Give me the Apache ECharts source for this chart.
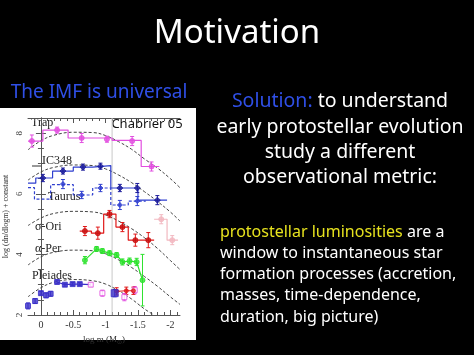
<!DOCTYPE html>
<html><head><meta charset="utf-8">
<script src="https://cdn.jsdelivr.net/npm/echarts@6/dist/echarts.min.js"></script>
<style>html,body{margin:0;padding:0;background:#000;} #c{width:474px;height:355px;}</style>
</head><body><div id="c"></div>
<script>
// ---- tick labels ----
const xTickValues = [0, -0.5, -1, -1.5, -2];
const xMinorValues = [0.1, -0.1, -0.2, -0.3, -0.4, -0.6, -0.7, -0.8, -0.9, -1.1, -1.2, -1.3, -1.4, -1.6, -1.7, -1.8, -1.9, -2.1];
const yTickValues = [2, 4, 6, 8];
const yMinorValues = [2.5, 3, 3.5, 4.5, 5, 5.5, 6.5, 7, 7.5, 8.5];
const groupLabels = ['Trap', 'IC348', 'Taurus', 'σ-Ori', 'α-Per', 'Pleiades'];

// ---- Chabrier lognormal curves ----
const trapCurveX = [0.2, 0.0, -0.2, -0.5, -0.8, -1.0, -1.2, -1.4, -1.6, -1.8, -2.0, -2.15];
const trapCurveY = [7.45, 7.75, 7.93, 8.03, 8.02, 7.92, 7.72, 7.47, 7.15, 6.85, 6.5, 6.2];
const ic348CurveX = [0.2, 0.0, -0.2, -0.5, -0.8, -1.0, -1.2, -1.4, -1.6, -1.8, -2.0, -2.15];
const ic348CurveY = [6.45, 6.72, 6.87, 6.95, 6.93, 6.82, 6.62, 6.37, 6.07, 5.75, 5.4, 5.1];
const sigCurveX = [0.2, 0.0, -0.2, -0.5, -0.8, -1.0, -1.2, -1.4, -1.6, -1.8, -2.0, -2.15];
const sigCurveY = [4.95, 5.2, 5.35, 5.42, 5.4, 5.3, 5.1, 4.85, 4.55, 4.2, 3.8, 3.5];
const aperCurveX = [0.2, 0.0, -0.2, -0.5, -0.8, -1.0, -1.2, -1.4, -1.6, -1.8, -2.0, -2.15];
const aperCurveY = [3.65, 3.92, 4.07, 4.14, 4.12, 4.02, 3.82, 3.57, 3.27, 2.95, 2.6, 2.35];
const pleCurveX = [0.2, 0.0, -0.2, -0.5, -0.8, -1.0, -1.2, -1.4, -1.6, -1.75];
const pleCurveY = [2.6, 2.9, 3.08, 3.17, 3.13, 3.02, 2.8, 2.53, 2.2, 2.0];

// ---- histograms (bin edges + levels) ----
const trapEdges = [0.2, -0.03, -0.42, -1.1, -1.55, -1.83];
const trapLevels = [7.74, 8.1, 7.84, 7.76, 6.9];
const ic348Edges = [0.2, 0.08, -0.18, -0.5, -0.8, -1.08, -1.5, -1.95];
const ic348Levels = [6.35, 6.52, 6.75, 6.88, 6.93, 6.19, 5.79];
const taurusEdges = [0.2, 0.1, -0.15, -0.5, -0.8, -1.08, -1.35, -1.62];
const taurusLevels = [6.2, 5.82, 6.3, 5.96, 6.19, 5.63, 5.76];
const sigEdges = [-0.6, -0.78, -0.97, -1.16, -1.35, -1.75];
const sigLevels = [4.77, 4.7, 5.33, 4.9, 4.47];
const sigFadeEdges = [-1.75, -1.95, -2.12];
const sigFadeLevels = [5.16, 4.47];

// ---- data points ----
const trapX = [0.14, -0.25, -0.63, -1.02, -1.41, -1.71];
const trapY = [7.74, 8.1, 7.84, 7.8, 7.74, 6.9];
const trapErr = [0.2, 0.1, 0.15, 0.1, 0.15, 0.15];
const ic348X = [-0.03, -0.34, -0.65, -0.92, -1.22, -1.49, -1.8];
const ic348Y = [6.52, 6.75, 6.88, 6.91, 6.19, 6.19, 5.79];
const ic348Err = [0.12, 0.1, 0.1, 0.1, 0.12, 0.15, 0.15];
const taurusX = [-0.34, -0.63, -0.92, -1.22, -1.49];
const taurusY = [6.32, 5.96, 6.19, 5.63, 5.76];
const taurusErr = [0.15, 0.12, 0.12, 0.15, 0.15];
const sigX = [-0.68, -0.88, -1.06, -1.26, -1.46, -1.66];
const sigY = [4.77, 4.7, 5.33, 4.9, 4.47, 4.47];
const sigErr = [0.15, 0.2, 0.12, 0.15, 0.2, 0.25];
const sigFadeX = [-1.86, -2.03];
const sigFadeY = [5.16, 4.47];
const sigFadeErr = [0.15, 0.15];
const aperX = [-0.68, -0.86, -0.95, -1.06, -1.17, -1.26, -1.37, -1.48, -1.57];
const aperY = [3.81, 4.18, 4.11, 4.04, 3.98, 3.75, 3.78, 3.75, 3.15];
const aperErr = [0.12, 0.08, 0.08, 0.08, 0.08, 0.1, 0.1, 0.12, 0.85];
const pleX = [0.2, 0.09, 0.0, -0.08, -0.15, -0.25, -0.37, -0.49, -0.6];
const pleY = [2.3, 2.46, 2.72, 2.65, 2.7, 3.09, 3.0, 3.02, 3.02];
const pleErr = [0.1, 0.08, 0.06, 0.08, 0.08, 0.06, 0.05, 0.05, 0.05];
const pleMagX = [-0.77, -0.95, -1.29, -1.45];
const pleMagY = [3.0, 2.72, 2.59, 2.82];
const pleMagErr = [0.06, 0.1, 0.12, 0.12];
const pleBigX = [-1.14];
const pleBigY = [2.72];
const pleBigErr = [0.12];
const redLowX = [-1.17, -1.32, -1.43];
const redLowY = [2.78, 2.8, 2.8];
const redLowErr = [0.12, 0.12, 0.12];
const cutX = [-1.1];

// ---- helpers ----
const pts = (xs, ys) => xs.map((x, i) => [x, ys[i]]);
const stepPts = (edges, lv) => {
  const d = [];
  for (let i = 0; i < lv.length; i++) d.push([edges[i], lv[i]]);
  d.push([edges[edges.length - 1], lv[lv.length - 1]]);
  return d;
};
const curve = (xs, ys) => ({
  type: 'line', data: pts(xs, ys), smooth: 0.4, symbol: 'none', silent: true,
  lineStyle: { color: '#444', width: 1, type: [3, 2] }, z: 2
});
const hist = (edges, lv, color, dashed, w) => ({
  type: 'line', data: stepPts(edges, lv), step: 'end', symbol: 'none', silent: true,
  lineStyle: { color: color, width: w || 1.2, type: dashed ? [3, 2] : 'solid' }, z: 3
});
const scatter = (xs, ys, color, symbol, size, fill) => ({
  type: 'scatter', data: pts(xs, ys), symbol: symbol, symbolSize: size, silent: true,
  itemStyle: { color: fill === false ? '#fff' : color, borderColor: color, borderWidth: 1 }, z: 5
});
const errBars = (xs, ys, es, color) => ({
  type: 'custom', silent: true, z: 4,
  data: xs.map((x, i) => [x, ys[i], es[i]]),
  encode: { x: 0, y: 1 },
  renderItem: (params, api) => {
    const x = api.value(0), y = api.value(1), e = api.value(2);
    const t = api.coord([x, y + e]), b = api.coord([x, y - e]);
    const w = 2, st = { stroke: color, lineWidth: 1 };
    return { type: 'group', children: [
      { type: 'line', shape: { x1: t[0], y1: t[1], x2: b[0], y2: b[1] }, style: st },
      { type: 'line', shape: { x1: t[0] - w, y1: t[1], x2: t[0] + w, y2: t[1] }, style: st },
      { type: 'line', shape: { x1: b[0] - w, y1: b[1], x2: b[0] + w, y2: b[1] }, style: st }
    ] };
  }
});

const MAG = '#e24fe0', BLUE = '#2f3fcf', RED = '#e01818', GREEN = '#2ee22e', PBLUE = '#3a2fc8', FADE = '#f2b8c0';
const serif = 'Liberation Serif';
const axisCommon = { type: 'value', min: -2.15, max: 0.2, inverse: true, gridIndex: 0, splitLine: { show: false } };

const xAxes = [
  Object.assign({}, axisCommon, {
    position: 'bottom',
    axisLine: { show: true, lineStyle: { color: '#555', width: 1 } },
    axisTick: { show: true, inside: true, length: 5, customValues: xTickValues, lineStyle: { color: '#555' } },
    axisLabel: { show: true, customValues: xTickValues, color: '#333', fontFamily: serif, fontSize: 10, margin: 5,
      formatter: v => (v === 0 ? '0' : String(v)) },
    name: '{a|log m (M}{s|⊙}{a|)}', nameLocation: 'middle', nameGap: 17,
    nameTextStyle: { rich: { a: { fontFamily: serif, fontSize: 9, color: '#333' }, s: { fontFamily: 'DejaVu Sans', fontSize: 6, color: '#333', verticalAlign: 'bottom', padding: [6, 0, 0, 0] } } }
  }),
  Object.assign({}, axisCommon, {
    position: 'bottom', axisLine: { show: false },
    axisTick: { show: true, inside: true, length: 3, customValues: xMinorValues, lineStyle: { color: '#555' } },
    axisLabel: { show: false }
  }),
  Object.assign({}, axisCommon, {
    position: 'top',
    axisLine: { show: true, lineStyle: { color: '#555', width: 1 } },
    axisTick: { show: true, inside: true, length: 5, customValues: xTickValues, lineStyle: { color: '#555' } },
    axisLabel: { show: false }
  }),
  Object.assign({}, axisCommon, {
    position: 'top', axisLine: { show: false },
    axisTick: { show: true, inside: true, length: 3, customValues: xMinorValues, lineStyle: { color: '#555' } },
    axisLabel: { show: false }
  })
];
const yCommon = { type: 'value', min: 2, max: 8.5, gridIndex: 0, splitLine: { show: false } };
const yAxes = [
  Object.assign({}, yCommon, {
    position: 'left',
    axisLine: { show: true, lineStyle: { color: '#555', width: 1 } },
    axisTick: { show: true, inside: true, length: 5, customValues: yTickValues, lineStyle: { color: '#555' } },
    axisLabel: { show: true, customValues: yTickValues, rotate: 90, color: '#333', fontFamily: serif, fontSize: 9, margin: 4 },
    name: 'log (dn/dlogm) + constant', nameLocation: 'middle', nameGap: 18, nameRotate: 90,
    nameTextStyle: { fontFamily: serif, fontSize: 8, color: '#333' }
  }),
  Object.assign({}, yCommon, {
    position: 'left', axisLine: { show: false },
    axisTick: { show: true, inside: true, length: 3, customValues: yMinorValues, lineStyle: { color: '#555' } },
    axisLabel: { show: false }
  }),
  Object.assign({}, yCommon, {
    position: 'right',
    axisLine: { show: true, lineStyle: { color: '#555', width: 1 } },
    axisTick: { show: true, inside: true, length: 5, customValues: yTickValues, lineStyle: { color: '#555' } },
    axisLabel: { show: false }
  }),
  Object.assign({}, yCommon, {
    position: 'right', axisLine: { show: false },
    axisTick: { show: true, inside: true, length: 3, customValues: yMinorValues, lineStyle: { color: '#555' } },
    axisLabel: { show: false }
  })
];

const series = [
  { type: 'line', data: [[cutX[0], 2], [cutX[0], 8.5]], symbol: 'none', silent: true, lineStyle: { color: '#c8c8c8', width: 1 }, z: 1 },
  curve(trapCurveX, trapCurveY), curve(ic348CurveX, ic348CurveY), curve(sigCurveX, sigCurveY),
  curve(aperCurveX, aperCurveY), curve(pleCurveX, pleCurveY),
  hist(trapEdges, trapLevels, MAG), hist(ic348Edges, ic348Levels, BLUE), hist(taurusEdges, taurusLevels, BLUE, true),
  hist(sigEdges, sigLevels, RED), hist(sigFadeEdges, sigFadeLevels, FADE),
  { type: 'line', data: pts(aperX, aperY), symbol: 'none', silent: true, lineStyle: { color: GREEN, width: 1.2 }, z: 3 },
  { type: 'line', data: pts(pleX.slice(5), pleY.slice(5)).concat(pts(pleMagX.slice(0, 1), pleMagY.slice(0, 1))), symbol: 'none', silent: true, lineStyle: { color: PBLUE, width: 1.2 }, z: 3 },
  { type: 'line', data: pts(redLowX, redLowY), symbol: 'none', silent: true, lineStyle: { color: RED, width: 1 }, z: 3 },
  errBars(trapX, trapY, trapErr, MAG), scatter(trapX, trapY, MAG, 'circle', 5),
  errBars(ic348X, ic348Y, ic348Err, '#1a1a9a'), scatter(ic348X, ic348Y, '#1a1a9a', 'diamond', 6),
  errBars(taurusX, taurusY, taurusErr, BLUE), scatter(taurusX, taurusY, BLUE, 'diamond', 5),
  errBars(sigX, sigY, sigErr, RED), scatter(sigX, sigY, '#c80c0c', 'circle', 5),
  errBars(sigFadeX, sigFadeY, sigFadeErr, FADE), scatter(sigFadeX, sigFadeY, FADE, 'circle', 5),
  errBars(aperX, aperY, aperErr, GREEN), scatter(aperX, aperY, GREEN, 'circle', 5),
  errBars(pleX, pleY, pleErr, PBLUE), scatter(pleX, pleY, PBLUE, 'rect', 5),
  errBars(pleMagX, pleMagY, pleMagErr, MAG), scatter(pleMagX, pleMagY, MAG, 'rect', 5, false),
  errBars(redLowX, redLowY, redLowErr, RED), scatter(redLowX, redLowY, RED, 'circle', 4),
  errBars(pleBigX, pleBigY, pleBigErr, PBLUE), scatter(pleBigX, pleBigY, PBLUE, 'rect', 7)
];

const labelStyle = { fontFamily: serif, fontSize: 12, fill: '#222' };
const slideFont = '"Noto Sans"';
const big = '19.5px ' + slideFont, small = '16px ' + slideFont;
const graphic = [
  { type: 'rect', shape: { x: 0, y: 108, width: 196, height: 232 }, style: { fill: '#fff' }, z: -10 },
  { type: 'text', x: 237, y: 34, style: { text: 'Motivation', font: '33px ' + slideFont, fill: '#fff', align: 'center', verticalAlign: 'middle' } },
  { type: 'text', x: 99, y: 93, style: { text: 'The IMF is universal', font: '19px ' + slideFont, fill: '#2f4fe6', align: 'center', verticalAlign: 'middle' } },
  { type: 'text', x: 147, y: 124, style: { text: 'Chabrier 05', font: '13px ' + slideFont, fill: '#111', align: 'center', verticalAlign: 'middle' } },
  { type: 'text', x: 31, y: 123, style: Object.assign({ text: groupLabels[0], align: 'left', verticalAlign: 'middle' }, labelStyle) },
  { type: 'line', shape: { x1: 32, y1: 166, x2: 42, y2: 166 }, style: { stroke: '#333', lineWidth: 1 } },
  { type: 'text', x: 42, y: 161, style: Object.assign({ text: groupLabels[1], align: 'left', verticalAlign: 'middle' }, labelStyle) },
  { type: 'text', x: 48, y: 197, style: Object.assign({ text: groupLabels[2], align: 'left', verticalAlign: 'middle' }, labelStyle) },
  { type: 'text', x: 35, y: 227, style: Object.assign({ text: groupLabels[3], align: 'left', verticalAlign: 'middle' }, labelStyle) },
  { type: 'text', x: 35, y: 249, style: Object.assign({ text: groupLabels[4], align: 'left', verticalAlign: 'middle' }, labelStyle) },
  { type: 'text', x: 32, y: 276, style: Object.assign({ text: groupLabels[5], align: 'left', verticalAlign: 'middle' }, labelStyle) },
  { type: 'text', x: 340, y: 101, style: { text: '{b|Solution:} to understand', font: big, fill: '#fff', align: 'center', verticalAlign: 'middle', rich: { b: { fill: '#2f4fe6', font: big } } } },
  { type: 'text', x: 340, y: 127, style: { text: 'early protostellar evolution', font: big, fill: '#fff', align: 'center', verticalAlign: 'middle' } },
  { type: 'text', x: 340, y: 152, style: { text: 'study a different', font: big, fill: '#fff', align: 'center', verticalAlign: 'middle' } },
  { type: 'text', x: 340, y: 177, style: { text: 'observational metric:', font: big, fill: '#fff', align: 'center', verticalAlign: 'middle' } },
  { type: 'text', x: 220, y: 232, style: { text: '{y|protostellar luminosities} are a', font: small, fill: '#fff', align: 'left', verticalAlign: 'middle', rich: { y: { fill: '#e6e21e', font: small } } } },
  { type: 'text', x: 220, y: 253, style: { text: 'window to instantaneous star', font: small, fill: '#fff', align: 'left', verticalAlign: 'middle' } },
  { type: 'text', x: 220, y: 274, style: { text: 'formation processes (accretion,', font: small, fill: '#fff', align: 'left', verticalAlign: 'middle' } },
  { type: 'text', x: 220, y: 295, style: { text: 'masses, time-dependence,', font: small, fill: '#fff', align: 'left', verticalAlign: 'middle' } },
  { type: 'text', x: 220, y: 317, style: { text: 'duration, big picture)', font: small, fill: '#fff', align: 'left', verticalAlign: 'middle' } }
];

const chart = echarts.init(document.getElementById('c'), null, { renderer: 'canvas' });
chart.setOption({
  backgroundColor: '#000',
  animation: false,
  grid: { left: 28, top: 118, width: 152, height: 197, containLabel: false },
  xAxis: xAxes,
  yAxis: yAxes,
  series: series,
  graphic: graphic
});
</script></body></html>
